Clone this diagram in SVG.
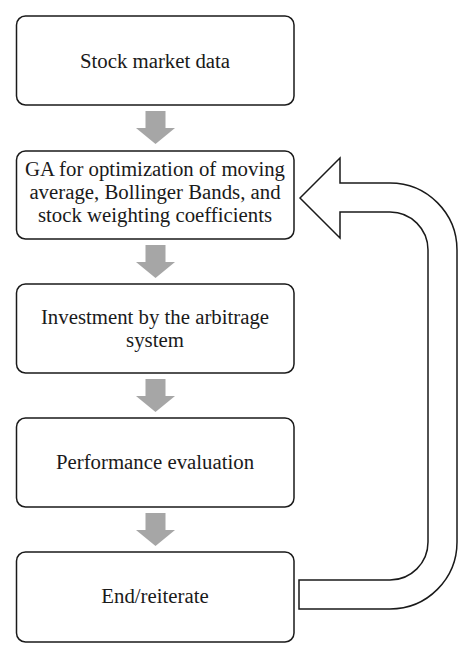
<svg xmlns="http://www.w3.org/2000/svg" width="474" height="658" viewBox="0 0 474 658">
<style>
.box{fill:#fff;stroke:#1a1a1a;stroke-width:1.5}
.t{font-family:"Liberation Serif","Times New Roman",serif;font-size:20.8px;fill:#1a1a1a;text-anchor:middle}
.ga{fill:#a6a6a6}
.loop{fill:#fff;stroke:#1a1a1a;stroke-width:1.5;stroke-linejoin:miter}
</style>
<defs>
<path id="down" class="ga" d="M-10,0 L10,0 L10,17 L19.5,17 L0,33 L-19.5,17 L-10,17 Z"/>
</defs>
<rect width="474" height="658" fill="#fff"/>
<g id="connectors">
<use href="#down" x="155.5" y="111"/>
<use href="#down" x="155.5" y="245"/>
<use href="#down" x="155.5" y="379"/>
<use href="#down" x="155.5" y="513"/>
<path id="loop-arrow" class="loop" d="M300,198 L340,158 L340,183 L390,183 A67,67 0 0 1 457,250 L457,542 A67,67 0 0 1 390,609 L299,609 L299,580 L390,580 A38,38 0 0 0 428,542 L428,250 A38,38 0 0 0 390,212 L340,212 L340,238 Z"/>
</g>
<g id="n1">
<rect class="box" x="16.5" y="16" width="277.5" height="89" rx="9"/>
<text class="t" x="155" y="68">Stock market data</text>
</g>
<g id="n2">
<rect class="box" x="16.5" y="151" width="277.5" height="88" rx="9"/>
<text class="t" x="155" y="176">GA for optimization of moving</text>
<text class="t" x="155" y="199">average, Bollinger Bands, and</text>
<text class="t" x="155" y="222">stock weighting coefficients</text>
</g>
<g id="n3">
<rect class="box" x="16.5" y="284" width="277.5" height="89" rx="9"/>
<text class="t" x="155" y="324">Investment by the arbitrage</text>
<text class="t" x="155" y="347">system</text>
</g>
<g id="n4">
<rect class="box" x="16.5" y="418" width="277.5" height="89" rx="9"/>
<text class="t" x="155" y="469">Performance evaluation</text>
</g>
<g id="n5">
<rect class="box" x="16.5" y="552" width="277.5" height="90" rx="9"/>
<text class="t" x="155" y="603">End/reiterate</text>
</g>
</svg>
